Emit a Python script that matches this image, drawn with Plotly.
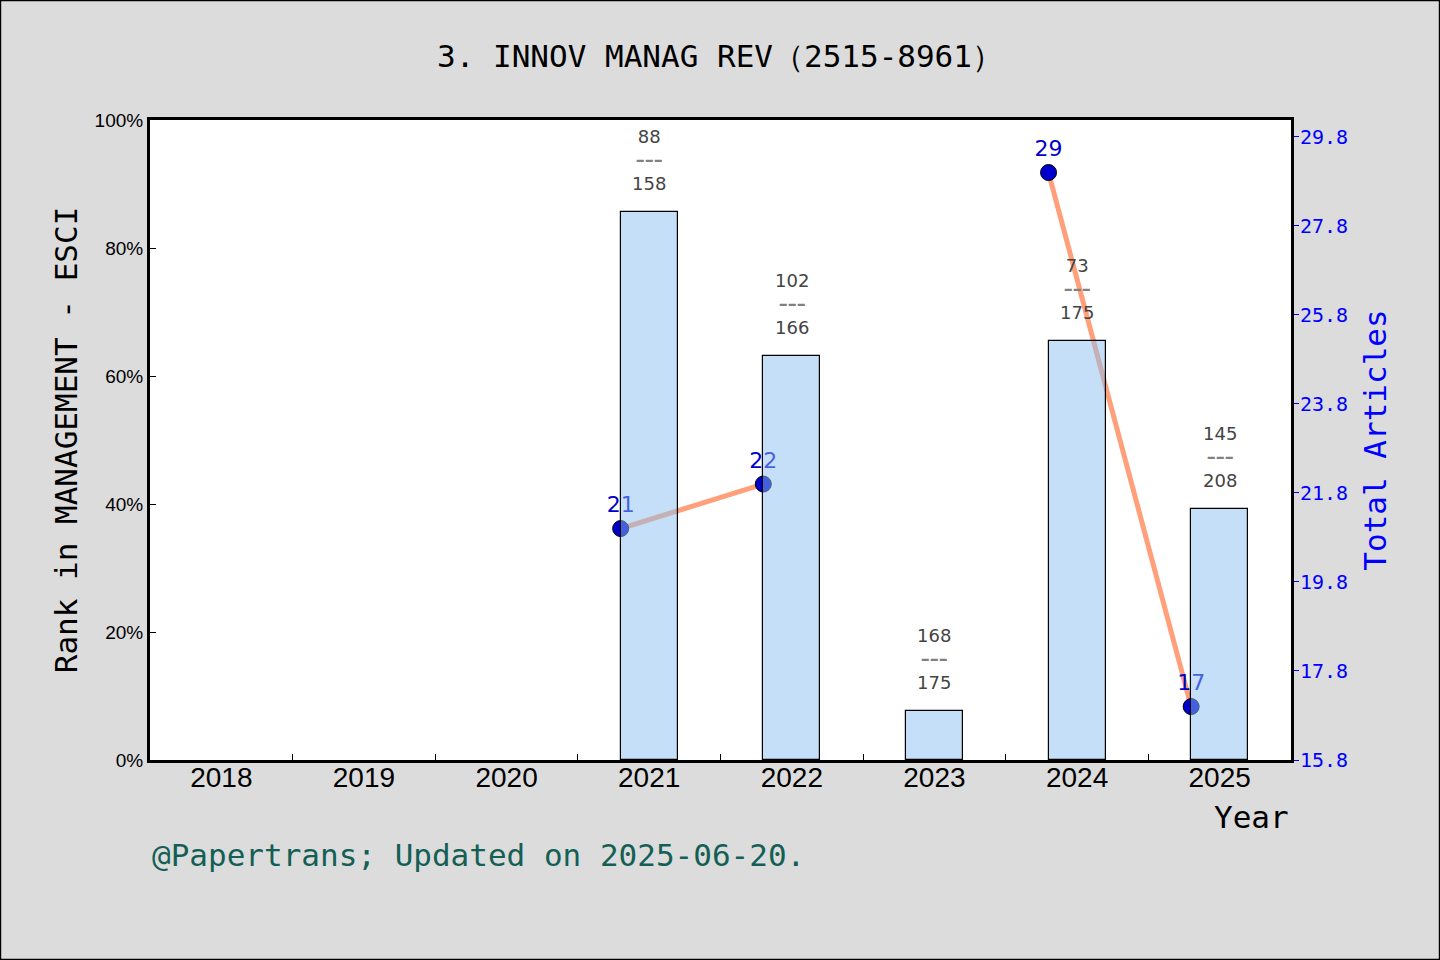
import plotly.graph_objects as go

years = ["2018", "2019", "2020", "2021", "2022", "2023", "2024", "2025"]
rank_pct = [None, None, None, 0.856, 0.631, 0.077, 0.655, 0.392]
rank_num = [None, None, None, 88, 102, 168, 73, 145]
rank_total = [None, None, None, 158, 166, 175, 175, 208]
articles = [None, None, None, 21, 22, None, 29, 17]
right_ticks = [15.8, 17.8, 19.8, 21.8, 23.8, 25.8, 27.8, 29.8]

idx = list(range(len(years)))
line_x = [i - 0.2 for i in idx]
boundaries = [i + 0.5 for i in idx[:-1]]

MONO = "DejaVu Sans Mono"
W, H = 1440, 960
ML, MR, MT, MB = 150, 149, 120, 200
PW, PH = W - ML - MR, H - MT - MB

fig = go.Figure()

fig.add_trace(go.Scatter(
    x=line_x, y=articles, yaxis="y",
    mode="lines+markers+text",
    line=dict(color="#FFA07A", width=5),
    marker=dict(color="#0000CD", size=16, line=dict(color="black", width=1)),
    text=[("" if v is None else str(v)) for v in articles],
    textposition="top center",
    textfont=dict(family="DejaVu Sans", size=22, color="#0000CD"),
    connectgaps=False, showlegend=False, hoverinfo="skip",
))

fig.add_trace(go.Bar(
    x=idx, y=rank_pct, yaxis="y2", width=0.4,
    marker=dict(color="rgba(138,192,240,0.5)", line=dict(color="black", width=1.2)),
    showlegend=False, hoverinfo="skip",
))

annotations = []
for i, p, r, t in zip(idx, rank_pct, rank_num, rank_total):
    if p is None:
        continue
    annotations.append(dict(
        x=i, y=p, xref="x", yref="y2", yshift=52, showarrow=False,
        text=f"{r}<br><span style='color:#808080'><b>–––</b></span><br>{t}",
        font=dict(family="DejaVu Sans", size=18, color="#444444"),
        yanchor="middle", xanchor="center",
    ))

annotations.append(dict(
    x=0, y=-0.148, xref="paper", yref="paper", xanchor="left", yanchor="middle",
    text="@Papertrans; Updated on 2025-06-20.", showarrow=False,
    font=dict(family=MONO, size=31, color="#145f55"),
))
annotations.append(dict(
    x=1, y=-0.089, xref="paper", yref="paper", xanchor="right", yanchor="middle",
    text="Year", showarrow=False,
    font=dict(family=MONO, size=31, color="black"),
))

fig.update_layout(
    width=W, height=H,
    paper_bgcolor="#dcdcdc", plot_bgcolor="white",
    margin=dict(l=ML, r=MR, t=MT, b=MB),
    title=dict(text="3. INNOV MANAG REV（2515-8961）", x=0.5, xanchor="center",
               y=1 - 56 / 960, yanchor="middle", yref="container",
               font=dict(family=MONO, size=31, color="black")),
    xaxis=dict(
        range=[-0.5, 7.5], tickmode="array", tickvals=idx, ticktext=years,
        ticks="", showgrid=False, zeroline=False,
        showline=True, mirror=True, linecolor="black", linewidth=3,
        tickfont=dict(family="Liberation Sans", size=28, color="black"),
        ticklabelstandoff=-10,
        minor=dict(tickmode="array", tickvals=boundaries, ticks="inside",
                   ticklen=6, tickcolor="black", tickwidth=1, showgrid=False),
    ),
    yaxis=dict(
        side="right", range=[15.8, 30.18], tickmode="array", tickvals=right_ticks,
        tickformat=".1f", ticks="outside", ticklen=5, tickcolor="blue",
        tickfont=dict(family=MONO, size=20, color="blue"),
        ticklabelstandoff=-3,
        showgrid=False, zeroline=False,
        showline=True, linecolor="black", linewidth=3,
        title=dict(text="Total Articles", font=dict(family=MONO, size=31, color="blue"),
                   standoff=18),
    ),
    yaxis2=dict(
        overlaying="y", side="left", range=[0, 1], tickmode="linear", tick0=0, dtick=0.2,
        tickformat=".0%", ticks="inside", ticklen=6, tickcolor="black",
        tickfont=dict(family="Liberation Sans Narrow, Liberation Sans", size=19, color="black"),
        showgrid=False, zeroline=False,
        showline=True, linecolor="black", linewidth=3,
        title=dict(text="Rank in MANAGEMENT - ESCI", font=dict(family=MONO, size=31, color="black"),
                   standoff=8),
    ),
    annotations=annotations,
    shapes=[dict(type="rect", xref="paper", yref="paper",
                 x0=-ML / PW + 0.0004, x1=1 + MR / PW - 0.0004,
                 y0=-MB / PH + 0.0008, y1=1 + MT / PH - 0.0008,
                 line=dict(color="black", width=1.5), fillcolor="rgba(0,0,0,0)")],
    bargap=0,
)

fig.write_html("out.html", config={"displayModeBar": False},
               post_script="document.body.style.margin='0';")
